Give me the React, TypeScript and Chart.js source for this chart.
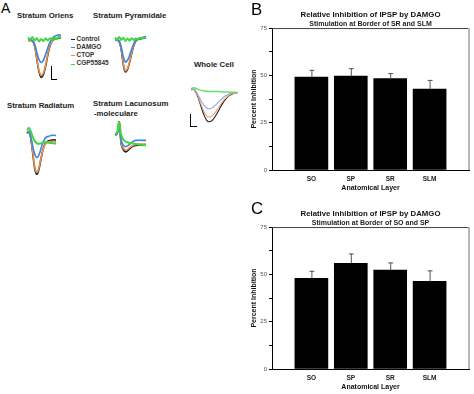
import React, { useEffect, useRef } from 'react';
import { Chart, registerables } from 'chart.js';
Chart.register(...registerables);

// ---------- Bar chart data (panels B and C) ----------
const layers = ['SO', 'SP', 'SR', 'SLM'];
const labeledTicks = [0, 25, 50, 75];
const inhibitionSRSLM = [49.1, 49.6, 48.3, 42.7];
const semSRSLM = [3.8, 4.2, 2.9, 4.9];
const inhibitionSOSP = [47.9, 55.9, 52.3, 46.3];
const semSOSP = [4.0, 5.1, 4.0, 5.8];

// ---------- Trace data (panel A) ----------
const traceNames = ['Control', 'DAMGO', 'CTOP', 'CGP55845'];
const oriensControl = [0, 0, -0.2, -1.5, -5, -8.5, -10, -9.3, -7, -4, -1.5, -0.2, 0.3, 0.5, 0.6, 0.6];
const oriensDamgo = [0.3, 0.2, 0, -1, -3.2, -5.2, -6, -5.4, -3.8, -2, -0.4, 0.6, 1.1, 1.3, 1.5, 1.3];
const oriensCtop = [0, 0, -0.2, -1.4, -4.8, -8.2, -9.5, -8.8, -6.6, -3.7, -1.3, -0.1, 0.4, 0.6, 0.8, 0.8];
const oriensCgp = [0.8, 0.2, 0.9, 0, 0.6, -0.3, 0.4, -0.2, 0.5, 0, 0.6, 0.1, 0.7, 0.3, 0.9, 0.6];

const pyrControl = [0, 0, -0.3, -2.5, -6.5, -8.6, -8, -6.2, -3.8, -1.6, -0.3, 0.2, 0.4, 0.5, 0.6, 0.7];
const pyrDamgo = [0.2, 0.1, -0.2, -1.8, -4.4, -5.9, -5.5, -4.2, -2.5, -1, 0, 0.4, 0.6, 0.7, 0.9, 1.1];
const pyrCtop = [0, 0, -0.3, -2.3, -6.2, -8.3, -7.7, -6, -3.6, -1.5, -0.2, 0.3, 0.5, 0.6, 0.7, 0.8];
const pyrCgp = [0.8, 0.2, 0.9, 0.1, 0.7, -0.2, 0.5, -0.1, 0.6, 0.1, 0.5, 0.2, 0.7, 0.4, 0.8, 0.6];

const radControl = [0, 0.5, -1.5, -5.5, -9.5, -11, -10, -7.5, -5, -3.2, -2.3, -2, -1.9, -1.8, -1.7, -1.8];
const radDamgo = [0, 0.5, -1, -3.5, -5.6, -6.5, -6, -4.5, -2.8, -1.6, -1, -0.8, -0.6, -0.5, -0.5, -0.6];
const radCtop = [0, 0.4, -1.4, -5.2, -9, -10.5, -9.6, -7.2, -4.9, -3.3, -2.5, -2.3, -2.2, -2.2, -2.2, -2.3];
const radCgp = [0.8, 1.5, 0.5, -1, -2, -2.6, -2.8, -2.7, -2.5, -2.4, -2.4, -2.5, -2.6, -2.6, -2.7, -2.7];

const lacControl = [0, 0.2, 3.5, -2.5, -4, -4.6, -4.4, -3.8, -3.3, -3, -2.9, -2.8, -2.8, -2.8, -2.8, -2.8];
const lacDamgo = [0, 0.2, 3, -1.5, -2.8, -3.2, -3, -2.6, -2.1, -1.7, -1.5, -1.5, -1.4, -1.5, -1.5, -1.5];
const lacCtop = [0, 0.2, 3.2, -2.2, -3.6, -4.1, -4, -3.5, -3.1, -2.8, -2.6, -2.5, -2.5, -2.5, -2.5, -2.5];
const lacCgp = [0.3, 0.5, 3.4, 0, -1.3, -1.8, -2, -2.2, -2.3, -2.4, -2.5, -2.6, -2.7, -2.7, -2.8, -2.8];

const wcControl = [0, 0, -1.5, -4, -6.5, -8.2, -8.6, -8, -6.8, -5.3, -3.8, -2.6, -1.7, -1.2, -0.9, -0.8];
const wcDamgo = [0, 0.2, -1, -2.6, -4, -4.9, -5.1, -4.7, -4, -3.1, -2.3, -1.6, -1.2, -0.9, -0.8, -0.7];
const wcCtop = [0, 0, -1.3, -3.5, -5.6, -7, -7.3, -6.8, -5.8, -4.5, -3.3, -2.3, -1.6, -1.1, -0.9, -0.8];
const wcCgp = [0.3, 0.5, 0.2, -0.1, -0.3, -0.4, -0.5, -0.5, -0.5, -0.5, -0.6, -0.6, -0.6, -0.7, -0.7, -0.8];

const traceColors = ['#1c1c2c', '#3a86e0', '#e8904c', '#42d642'];
const wholeCellColors = ['#1c1c2c', '#8ea6e2', '#eca06a', '#6ade6a'];

const FONT = "'Liberation Sans', Arial, Helvetica, sans-serif";

const errorBarPlugin = {
  id: 'errorBars',
  afterDatasetsDraw(chart: any) {
    const ctx = chart.ctx;
    const yScale = chart.scales.y;
    chart.data.datasets.forEach((ds: any, di: number) => {
      const errs = ds.errors;
      if (!errs) return;
      const meta = chart.getDatasetMeta(di);
      meta.data.forEach((bar: any, i: number) => {
        const v = ds.data[i];
        const e = errs[i];
        if (v == null || e == null) return;
        const x = bar.x;
        const yBar = yScale.getPixelForValue(v);
        const yTop = yScale.getPixelForValue(v + e);
        ctx.save();
        ctx.strokeStyle = '#555';
        ctx.lineWidth = 1;
        ctx.beginPath();
        ctx.moveTo(x + 0.5, yBar);
        ctx.lineTo(x + 0.5, yTop);
        ctx.moveTo(x - 2, yTop + 0.5);
        ctx.lineTo(x + 3, yTop + 0.5);
        ctx.stroke();
        ctx.restore();
      });
    });
  },
};

const framePlugin = {
  id: 'frame',
  afterDatasetsDraw(chart: any) {
    const { ctx, chartArea } = chart;
    ctx.save();
    ctx.strokeStyle = '#444';
    ctx.lineWidth = 1;
    ctx.beginPath();
    ctx.moveTo(chartArea.left, chartArea.top + 0.5);
    ctx.lineTo(chartArea.right, chartArea.top + 0.5);
    ctx.stroke();
    ctx.strokeStyle = '#b8b8b8';
    ctx.lineWidth = 2;
    ctx.beginPath();
    ctx.moveTo(chartArea.right, chartArea.top);
    ctx.lineTo(chartArea.right, chartArea.bottom);
    ctx.stroke();
    ctx.restore();
  },
};

function BarPanel(props: { top: number; subtitle: string; values: number[]; errors: number[] }) {
  const ref = useRef<HTMLCanvasElement>(null);
  useEffect(() => {
    const labels = ['', ...layers, ''];
    const data = [null, ...props.values, null];
    const errors = [null, ...props.errors, null];
    const chart = new Chart(ref.current!, {
      type: 'bar',
      data: {
        labels,
        datasets: [
          {
            data,
            errors,
            backgroundColor: '#000',
            borderWidth: 0,
            barThickness: 33,
          } as any,
        ],
      },
      options: {
        responsive: false,
        animation: false,
        events: [],
        layout: { padding: { top: 10.6, left: 18, right: 3, bottom: 0 } },
        plugins: {
          legend: { display: false },
          tooltip: { enabled: false },
          title: {
            display: true,
            fullSize: false,
            text: 'Relative Inhibition of IPSP by DAMGO',
            color: '#111',
            font: { family: FONT, size: 7.8, weight: 'bold', lineHeight: 1.2 },
            padding: { top: 0, bottom: 1.1 },
          },
          subtitle: {
            display: true,
            fullSize: false,
            text: props.subtitle,
            color: '#222',
            font: { family: FONT, size: 7, weight: 'bold', lineHeight: 1.0 },
            padding: { top: 0, bottom: 0 },
          },
        },
        scales: {
          x: {
            type: 'category',
            offset: false,
            grid: { display: false, drawTicks: false, offset: false },
            border: { display: true, color: '#000', width: 1 },
            ticks: {
              autoSkip: false,
              maxRotation: 0,
              padding: 5,
              color: '#222',
              font: { family: FONT, size: 6.5, weight: 'bold' },
            },
            title: {
              display: true,
              text: 'Anatomical Layer',
              color: '#111',
              font: { family: FONT, size: 7, weight: 'bold', lineHeight: 1.2 },
              padding: { top: 0, bottom: 2.8 },
            },
            afterFit(scale: any) {
              scale.height = 25;
            },
          },
          y: {
            min: 0,
            max: 75,
            grid: { display: true, drawOnChartArea: false, drawTicks: true, tickLength: 3, color: '#000' },
            border: { display: true, color: '#000', width: 1 },
            ticks: {
              stepSize: 12.5,
              padding: 2,
              color: '#555',
              font: { family: FONT, size: 6 },
              callback: (v: any) => (labeledTicks.includes(Number(v)) ? String(v) : ''),
            },
            title: {
              display: true,
              text: 'Percent Inhibition',
              color: '#111',
              font: { family: FONT, size: 7, weight: 'bold', lineHeight: 1.2 },
              padding: { top: 1.8, bottom: 0 },
            },
            afterFit(scale: any) {
              scale.width = 24;
            },
          },
        },
      } as any,
      plugins: [errorBarPlugin, framePlugin],
    });
    return () => chart.destroy();
  }, []);
  return (
    <canvas
      ref={ref}
      width={244}
      height={195}
      style={{ position: 'absolute', left: 230, top: props.top, width: 244, height: 195 }}
    />
  );
}

function TraceChart(props: {
  x0: number;
  x1: number;
  baseY: number;
  ppu: number;
  yMin: number;
  yMax: number;
  series: number[][];
  lineWidth: number;
  colors?: string[];
}) {
  const ref = useRef<HTMLCanvasElement>(null);
  const pad = 2;
  const left = Math.round(props.x0 - pad);
  const width = Math.round(props.x1 - props.x0 + 2 * pad);
  const top = Math.round(props.baseY - props.yMax * props.ppu - pad);
  const height = Math.round((props.yMax - props.yMin) * props.ppu + 2 * pad);
  useEffect(() => {
    const colors = props.colors ?? traceColors;
    // draw order: CGP on top, then DAMGO, CTOP, Control underneath
    const order = [3, 1, 2, 0];
    const chart = new Chart(ref.current!, {
      type: 'line',
      data: {
        labels: props.series[0].map((_, i) => i),
        datasets: order.map((k) => ({
          label: traceNames[k],
          data: props.series[k],
          borderColor: colors[k],
          borderWidth: k === 3 ? props.lineWidth + 0.4 : props.lineWidth,
          pointRadius: 0,
          tension: 0.35,
          fill: false,
        })),
      },
      options: {
        responsive: false,
        animation: false,
        events: [],
        layout: { padding: pad },
        scales: {
          x: { display: false, offset: false },
          y: { display: false, min: props.yMin, max: props.yMax },
        },
        plugins: { legend: { display: false }, tooltip: { enabled: false } },
      } as any,
    });
    return () => chart.destroy();
  }, []);
  return (
    <canvas
      ref={ref}
      width={width}
      height={height}
      style={{ position: 'absolute', left, top, width, height }}
    />
  );
}

function Label(props: { x: number; y: number; size: number; bold?: boolean; text: string; color?: string }) {
  return (
    <div
      style={{
        position: 'absolute',
        left: props.x,
        top: props.y,
        fontSize: props.size,
        lineHeight: 1,
        fontWeight: props.bold ? 'bold' : 'normal',
        color: props.color ?? '#222',
        whiteSpace: 'nowrap',
        fontFamily: FONT,
      }}
    >
      {props.text}
    </div>
  );
}

function ScaleBar(props: { x: number; y: number; w: number; h: number }) {
  return (
    <div
      style={{
        position: 'absolute',
        left: props.x,
        top: props.y,
        width: props.w,
        height: props.h,
        borderLeft: '1.5px solid #000',
        borderBottom: '1.5px solid #000',
      }}
    />
  );
}

export default function App() {
  const legendY = [35.5, 43.8, 52.1, 60.4];
  return (
    <div
      style={{
        position: 'fixed',
        left: 0,
        top: 0,
        width: 474,
        height: 394,
        background: '#fff',
        overflow: 'hidden',
        fontFamily: FONT,
      }}
    >
      {/* Panel A */}
      <Label x={1} y={1} size={14} text="A" color="#000" />
      <Label x={17} y={11.7} size={7.8} bold text="Stratum Oriens" />
      <Label x={93} y={11.7} size={7.8} bold text="Stratum Pyramidale" />
      <Label x={194} y={61} size={7.8} bold text="Whole Cell" />
      <Label x={7} y={102} size={7.8} bold text="Stratum Radiatum" />
      <Label x={93} y={100} size={7.8} bold text="Stratum Lacunosum" />
      <Label x={94} y={110} size={7.8} bold text="-moleculare" />

      {traceNames.map((n, i) => (
        <React.Fragment key={n}>
          <div
            style={{
              position: 'absolute',
              left: 71,
              top: legendY[i] + 3.2,
              width: 4,
              height: 1.2,
              background: traceColors[i],
            }}
          />
          <Label x={76.5} y={legendY[i]} size={6.5} bold text={n} color="#333" />
        </React.Fragment>
      ))}

      <TraceChart x0={28} x1={61} baseY={40} ppu={3.7} yMin={-11} yMax={2} lineWidth={1.6}
        series={[oriensControl, oriensDamgo, oriensCtop, oriensCgp]} />
      <TraceChart x0={115} x1={146} baseY={40} ppu={3.7} yMin={-10} yMax={2} lineWidth={1.6}
        series={[pyrControl, pyrDamgo, pyrCtop, pyrCgp]} />
      <TraceChart x0={27} x1={56} baseY={133} ppu={3.7} yMin={-12} yMax={2} lineWidth={1.6}
        series={[radControl, radDamgo, radCtop, radCgp]} />
      <TraceChart x0={115} x1={146} baseY={135} ppu={3.7} yMin={-6} yMax={4} lineWidth={1.6}
        series={[lacControl, lacDamgo, lacCtop, lacCgp]} />
      <TraceChart x0={191} x1={238} baseY={90} ppu={3.7} yMin={-10} yMax={1} lineWidth={1.1}
        colors={wholeCellColors}
        series={[wcControl, wcDamgo, wcCtop, wcCgp]} />

      <ScaleBar x={51} y={66} w={5} h={13} />
      <ScaleBar x={190} y={114} w={6} h={12} />

      {/* Panel B */}
      <Label x={251} y={1.6} size={16.8} text="B" color="#000" />
      <BarPanel top={0} subtitle="Stimulation at Border of SR and SLM" values={inhibitionSRSLM} errors={semSRSLM} />

      {/* Panel C */}
      <Label x={251} y={200.6} size={16.8} text="C" color="#000" />
      <BarPanel top={199} subtitle="Stimulation at Border of SO and SP" values={inhibitionSOSP} errors={semSOSP} />
    </div>
  );
}
